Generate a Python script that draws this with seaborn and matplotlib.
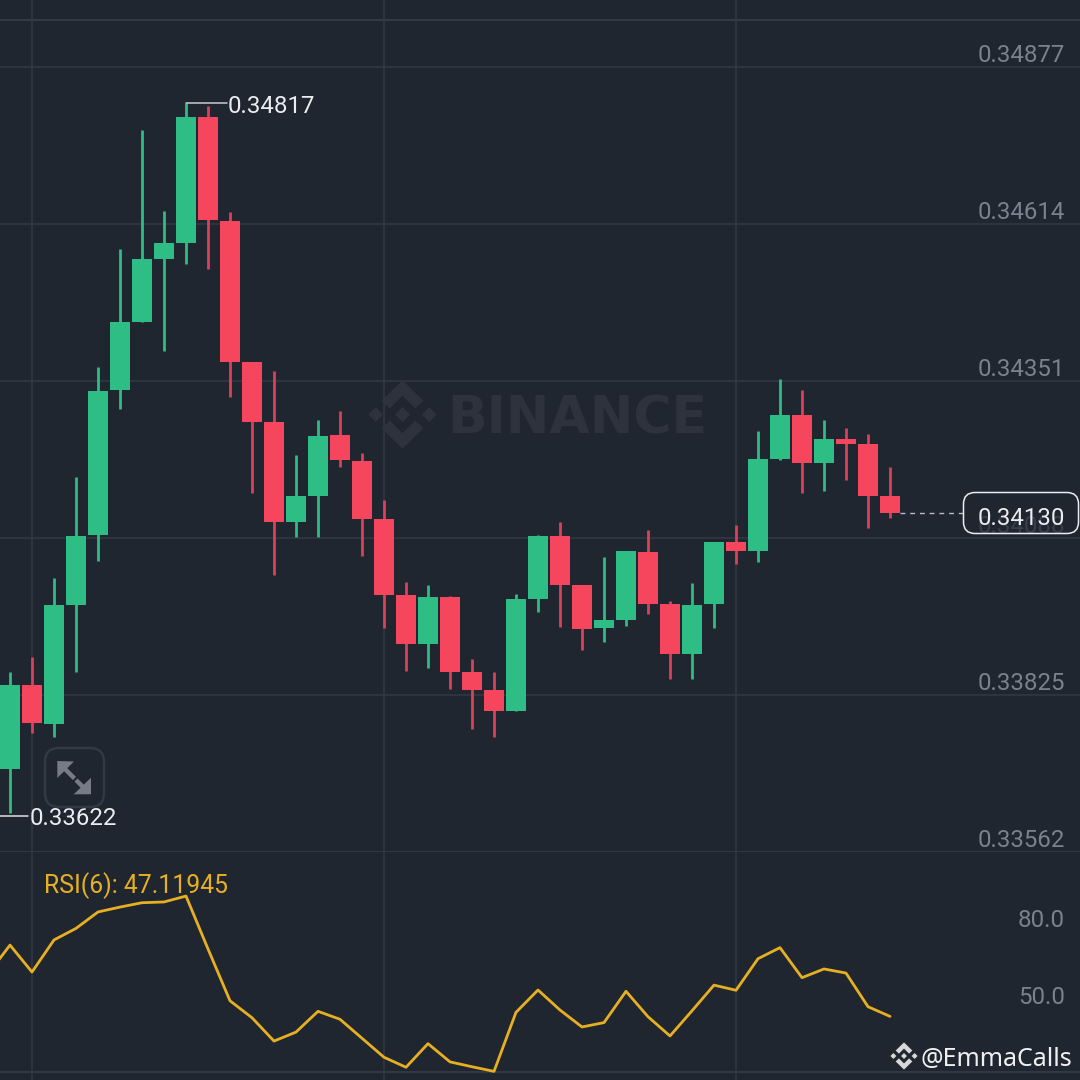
import matplotlib
matplotlib.use("Agg")
import matplotlib.pyplot as plt
import matplotlib.transforms as mtransforms
from matplotlib.patches import FancyBboxPatch, Polygon
import numpy as np
import seaborn as sns

opens = [.33701,.33842,.33776,.33975,.34093,.34336,.34449,.34555,.34583,.34793,.34619,
         .34382,.34283,.34114,.34158,.34260,.34217,.34120,.33993,.33911,.33989,.33864,
         .33833,.33798,.33986,.34091,.34009,.33937,.33950,.34065,.33977,.33893,.33977,
         .34081,.34067,.34221,.34294,.34213,.34254,.34245,.34159]
highs = [.33864,.33889,.34021,.34191,.34375,.34572,.34772,.34636,.34817,.34812,.34634,
         .34382,.34367,.34227,.34286,.34300,.34231,.34152,.34014,.34009,.33991,.33886,
         .33864,.33995,.34093,.34115,.34009,.34057,.34066,.34101,.33982,.34013,.34081,
         .34110,.34268,.34354,.34336,.34286,.34272,.34262,.34207]
lows = [.33628,.33762,.33755,.33864,.34050,.34304,.34449,.34401,.34547,.34538,.34325,
        .34164,.34026,.34090,.34089,.34207,.34058,.33937,.33866,.33871,.33835,.33768,
        .33754,.33798,.33964,.33939,.33900,.33914,.33941,.33960,.33852,.33851,.33938,
        .34044,.34048,.34219,.34163,.34166,.34185,.34104,.34122]
closes = [.33842,.33778,.33976,.34092,.34334,.34449,.34555,.34583,.34793,.34620,.34383,
          .34282,.34115,.34158,.34259,.34219,.34120,.33992,.33911,.33990,.33864,.33833,
          .33798,.33985,.34091,.34010,.33936,.33950,.34066,.33977,.33893,.33976,.34081,
          .34067,.34221,.34294,.34213,.34254,.34245,.34159,.34130]
rsi_values = [63.6,74.9,64.4,76.9,81.4,87.8,89.7,91.4,91.7,94.0,73.4,53.2,46.6,37.5,41.0,
              49.1,46.0,38.6,31.2,27.3,36.5,29.4,27.5,25.7,48.7,57.4,49.6,43.0,44.7,56.9,
              47.0,39.5,49.3,59.3,57.3,69.6,73.9,62.2,65.6,64.0,50.9,47.12]
price_ticks = [0.34877, 0.34614, 0.34351, 0.34088, 0.33825, 0.33562]
rsi_ticks = [50.0, 80.0]
vertical_grid_index = [1, 17, 33]
high_label, low_label, last_label = 0.34817, 0.33622, 0.34130
rsi_title = "RSI(6): 47.11945"

BG = "#1f2630"; GRID = "#323844"; AXIS = "#7b818d"; WHITE = "#eaecef"
GREEN = "#2ebd85"; RED = "#f6465d"; RED_W = "#dc4058"; GOLD = "#e6b022"; MARK = "#2d323d"

sns.set_theme(style="darkgrid", rc={"figure.facecolor": BG, "axes.facecolor": BG,
                                    "grid.color": GRID, "grid.linewidth": 1.1,
                                    "axes.edgecolor": GRID})
plt.rcParams["font.family"] = ["Roboto", "DejaVu Sans"]

S = 1080
fig = plt.figure(figsize=(10.8, 10.8), dpi=100)
ax = fig.add_axes([0, (S - 852) / S, 1, 852 / S])
ax_r = fig.add_axes([0, 0, 1, (S - 852) / S])
ov = fig.add_axes([0, 0, 1, 1], facecolor="none", zorder=5)
ov.set_xlim(0, S); ov.set_ylim(S, 0); ov.axis("off")

xlim = (-10 / 22, 1070 / 22)
idx = np.arange(len(opens))
ax.set_xlim(*xlim); ax_r.set_xlim(*xlim)
ax.set_ylim(0.33562, 0.34877 + 67 * 0.00263 / 157)
ax_r.set_ylim(22.34, 111.16)

# ---- watermark
def logo(target, cx, cy, r, color, zorder):
    k = r / 34.0
    d = 7.5
    for dx in (-26.7, 0, 26.7):
        target.add_patch(Polygon([(cx + (dx - d) * k, cy), (cx + dx * k, cy - d * k),
                                  (cx + (dx + d) * k, cy), (cx + dx * k, cy + d * k)],
                                 fc=color, ec="none", zorder=zorder))
    for sgn in (-1, 1):
        pts = [(0, 34.3), (21, 13.7), (12.7, 6), (0, 18.7), (-12.7, 6), (-21, 13.7)]
        target.add_patch(Polygon([(cx + px * k, cy + sgn * py * k) for px, py in pts],
                                 fc=color, ec="none", zorder=zorder))

logo(ax_r if False else ov, 402.5, 414.5, 34, MARK, 1)
ov.text(447, 433, "BINANCE", color=MARK, fontsize=37.5, fontweight="bold",
        family="DejaVu Sans", ha="left", va="baseline", zorder=1)

# ---- candles
is_up = [c >= o for o, c in zip(opens, closes)]
body_cols = [GREEN if u else RED for u in is_up]
wick_cols = [GREEN if u else RED_W for u in is_up]
ax.vlines(idx, lows, highs, colors=wick_cols, linewidth=2.0, zorder=3)
ax.bar(idx, [abs(c - o) for o, c in zip(opens, closes)],
       bottom=[min(o, c) for o, c in zip(opens, closes)],
       width=19.5 / 22, color=body_cols, linewidth=0, zorder=4)

# ---- RSI
sns.lineplot(x=np.arange(-1, len(rsi_values) - 1), y=rsi_values, ax=ax_r, color=GOLD,
             linewidth=2.0, legend=False, zorder=3)
ax_r.axhline(25.46, color=GRID, linewidth=1.5, zorder=1)
ax_r.set_xlabel(""); ax_r.set_ylabel("")

# ---- axes, grid, tick labels inside the plot
offset = mtransforms.ScaledTranslation(0, 14 / 100, fig.dpi_scale_trans)
for a, ticks, fmt in ((ax, price_ticks, "{:.5f}"), (ax_r, rsi_ticks, "{:.1f}")):
    a.set_yticks(ticks)
    a.set_yticklabels([fmt.format(t) for t in ticks])
    a.set_xticks(vertical_grid_index)
    a.set_xticklabels([])
    a.yaxis.tick_right()
    a.tick_params(axis="y", length=0, pad=-10.8, labelsize=17.3, colors=AXIS)
    a.tick_params(axis="x", length=0)
    for lab in a.get_yticklabels():
        lab.set_ha("right")
        lab.set_transform(lab.get_transform() + offset)
    a.set_axisbelow(True)
    for s in a.spines.values():
        s.set_visible(False)
ax_r.grid(False, axis="y")
ax_r.grid(True, axis="x")
ax.spines["bottom"].set_visible(True)
ax.spines["bottom"].set_linewidth(1.5)
ov.plot([0, S], [20, 20], color=GRID, lw=1.5, zorder=0)

# ---- high / low / last annotations
hx = idx[int(np.argmax(highs))]
ax.plot([hx, 9.85], [high_label, high_label], color="#c9ccd1", lw=1.1, zorder=5)
ax.text(9.88, high_label - 0.00002, f"{high_label:.5f}", color=WHITE, fontsize=17.3,
        ha="left", va="center_baseline", zorder=6)
ax.plot([-0.5, 0.82], [low_label, low_label], color="#e0e2e6", lw=1.1, zorder=5)
ax.text(0.88, low_label, f"{low_label:.5f}", color=WHITE, fontsize=17.3,
        ha="left", va="center_baseline", zorder=6)
ax.plot([40.45, 43.3], [last_label, last_label], color="#b9bcc2", lw=1.0,
        dashes=(3.5, 3.5), zorder=5)
# the price box veils the axis label that lies under it, as in the reference
ov.add_patch(FancyBboxPatch((975, 504), 92, 18, boxstyle="round,pad=11.5,rounding_size=11.5",
                            fc=BG, alpha=None, ec="none", zorder=3))
ov.patches[-1].set_facecolor((0x1f / 255, 0x26 / 255, 0x30 / 255, 0.72))
ov.add_patch(FancyBboxPatch((975, 504), 92, 18, boxstyle="round,pad=11.5,rounding_size=11.5",
                            fc="none", ec=WHITE, lw=1.1, zorder=4))
ov.text(978, 516, f"{last_label:.5f}", color=WHITE, fontsize=17.3, ha="left",
        va="center_baseline", zorder=5)

ov.text(44, 882.5, rsi_title, color=GOLD, fontsize=17.8, ha="left", va="center_baseline", zorder=5)

# ---- expand button
ov.add_patch(FancyBboxPatch((59, 762), 31, 31, boxstyle="round,pad=14,rounding_size=14",
                            fc="none", ec=GRID, lw=1.8, zorder=4))
ICON = "#767b86"
ov.add_patch(Polygon([(57.3, 761), (57.3, 778), (74, 761.5)], fc=ICON, ec="none", zorder=5))
ov.add_patch(Polygon([(91, 794.3), (91, 777.7), (73.7, 794.3)], fc=ICON, ec="none", zorder=5))
ov.plot([63, 74.5], [767, 778.5], color=ICON, lw=3.2, solid_capstyle="butt", zorder=5)
ov.plot([76, 85], [780, 789], color=ICON, lw=3.2, solid_capstyle="butt", zorder=5)

# ---- author mark
logo(ov, 904, 1056, 13.5, "#d9d9d9", 5)
ov.text(921, 1056, "@EmmaCalls", color="#f0f0f0", fontsize=18, family="Noto Sans",
        ha="left", va="center_baseline", zorder=5)

fig.savefig("out.png", dpi=100, facecolor=BG)
